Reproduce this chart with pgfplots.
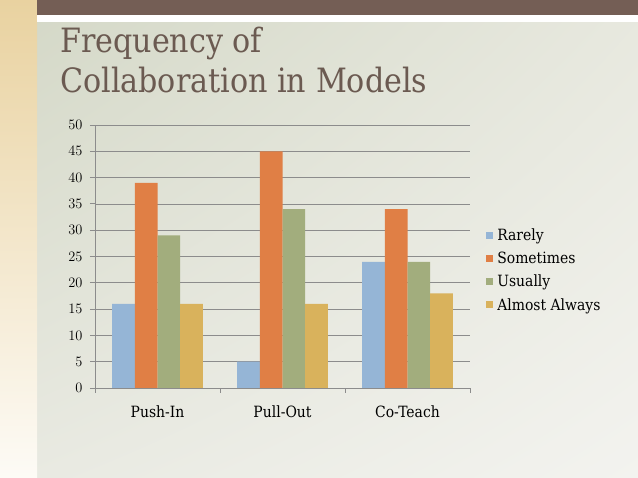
\documentclass[border=0pt]{standalone}
\usepackage{fontspec}
\setmainfont{DejaVu Serif Condensed}
\usepackage{pgfplots}
\pgfplotsset{compat=1.18}
\usetikzlibrary{shadings}

\definecolor{slideA}{RGB}{212,216,199}
\definecolor{slideB}{RGB}{231,232,222}
\definecolor{slideC}{RGB}{233,234,226}
\definecolor{slideD}{RGB}{243,243,239}
\definecolor{stripTop}{RGB}{233,210,160}
\definecolor{stripBot}{RGB}{253,251,246}
\definecolor{barTop}{RGB}{116,94,85}
\definecolor{titleBrown}{RGB}{107,90,81}
\definecolor{gridGrey}{RGB}{140,140,140}
\definecolor{cRarely}{RGB}{149,181,214}
\definecolor{cSometimes}{RGB}{224,127,69}
\definecolor{cUsually}{RGB}{162,173,125}
\definecolor{cAlmost}{RGB}{217,178,92}

\begin{document}
\begin{tikzpicture}
\useasboundingbox (0pt,0pt) rectangle (638pt,478pt);
% slide background
\shade[upper left=slideA, upper right=slideB, lower left=slideC, lower right=slideD]
  (37pt,0pt) rectangle (638pt,478pt);
\shade[top color=stripTop, bottom color=stripBot] (0pt,0pt) rectangle (37pt,478pt);
\fill[barTop] (37pt,463pt) rectangle (638pt,478pt);
\fill[white] (37pt,456pt) rectangle (638pt,463pt);
% title
\node[anchor=base west, text=titleBrown, font=\fontsize{33.5}{40}\selectfont, inner sep=0pt]
  at (60pt,425pt) {Frequency of};
\node[anchor=base west, text=titleBrown, font=\fontsize{33.5}{40}\selectfont, inner sep=0pt]
  at (60pt,385pt) {Collaboration in Models};

\begin{axis}[
    at={(95pt,90pt)}, anchor=south west,
    scale only axis,
    width=375pt, height=263pt,
    ybar=0pt, bar width=22.7pt,
    xmin=-0.5, xmax=2.5,
    ymin=0, ymax=50,
    xtick={0,1,2},
    xticklabels={Push-In,Pull-Out,Co-Teach},
    minor xtick={-0.5,0.5,1.5,2.5},
    ytick={0,5,...,50},
    axis x line*=bottom, axis y line*=left,
    axis line style={gridGrey, line width=0.8pt, -},
    tick align=outside,
    major tick length=5pt, minor tick length=5pt,
    xtick style={draw=none},
    minor x tick style={draw=gridGrey, line width=0.8pt},
    ytick style={draw=gridGrey, line width=0.8pt},
    ymajorgrids=true,
    grid style={gridGrey, line width=0.6pt},
    tick label style={font=\fontsize{15.5}{18}\selectfont, text=black},
    yticklabel style={xshift=-4pt},
    xticklabel style={yshift=-9pt},
    legend style={at={(rel axis cs:1.043,0.614)}, anchor=north west,
        draw=none, fill=none, font=\fontsize{15.5}{18}\selectfont,
        row sep=6pt, inner sep=0pt,
        nodes={inner xsep=4pt}},
    legend cell align=left,
    legend image code/.code={\fill[#1] (0pt,-3.5pt) rectangle (7pt,3.5pt);},
]
\addplot[fill=cRarely, draw=none] coordinates {(0,16) (1,5) (2,24)};
\addplot[fill=cSometimes, draw=none] coordinates {(0,39) (1,45) (2,34)};
\addplot[fill=cUsually, draw=none] coordinates {(0,29) (1,34) (2,24)};
\addplot[fill=cAlmost, draw=none] coordinates {(0,16) (1,16) (2,18)};
\legend{Rarely,Sometimes,Usually,Almost Always}
\end{axis}
\end{tikzpicture}
\end{document}
